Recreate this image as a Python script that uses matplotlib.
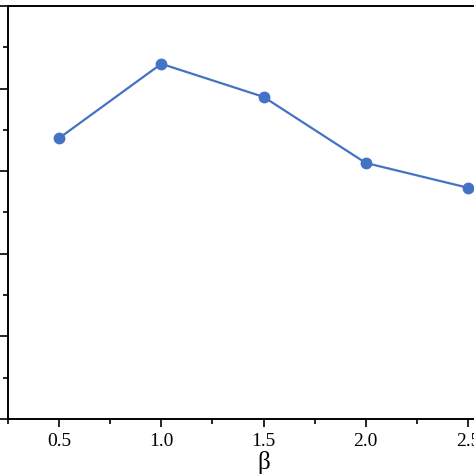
import matplotlib
matplotlib.use("Agg")
import matplotlib.pyplot as plt
from matplotlib.ticker import MultipleLocator

beta = [0.5, 1.0, 1.5, 2.0, 2.5]
values = [3.40, 4.30, 3.90, 3.10, 2.80]

plt.rcParams['font.family'] = ['Liberation Serif', 'DejaVu Serif']

W, H = 474, 474
fig = plt.figure(figsize=(W / 100, H / 100), dpi=100)
# axes are wider than the figure: the picture is a crop of a larger chart
ax = fig.add_axes([8 / W, 55 / H, 511 / W, 413 / H])

ax.plot(beta, values, color="#4472C4", linewidth=1.6, marker="o",
        markersize=7.5, markeredgecolor="#4472C4", markerfacecolor="#4472C4",
        clip_on=False)

ax.set_xlim(0.25, 2.75)
ax.set_ylim(0, 5)
ax.xaxis.set_major_locator(MultipleLocator(0.5))
ax.xaxis.set_minor_locator(MultipleLocator(0.25))
ax.yaxis.set_major_locator(MultipleLocator(1))
ax.yaxis.set_minor_locator(MultipleLocator(0.5))

for s in ax.spines.values():
    s.set_linewidth(1.4)
ax.tick_params(which="both", direction="out", width=1.2, labelsize=14)
ax.tick_params(which="major", length=6)
ax.tick_params(which="minor", length=3.5)
ax.tick_params(axis="x", pad=4)
# y tick labels fall outside the cropped picture
ax.tick_params(axis="y", labelleft=False)

ax.set_xlabel("β", fontsize=18, labelpad=1)

fig.savefig("out.png", dpi=100)
